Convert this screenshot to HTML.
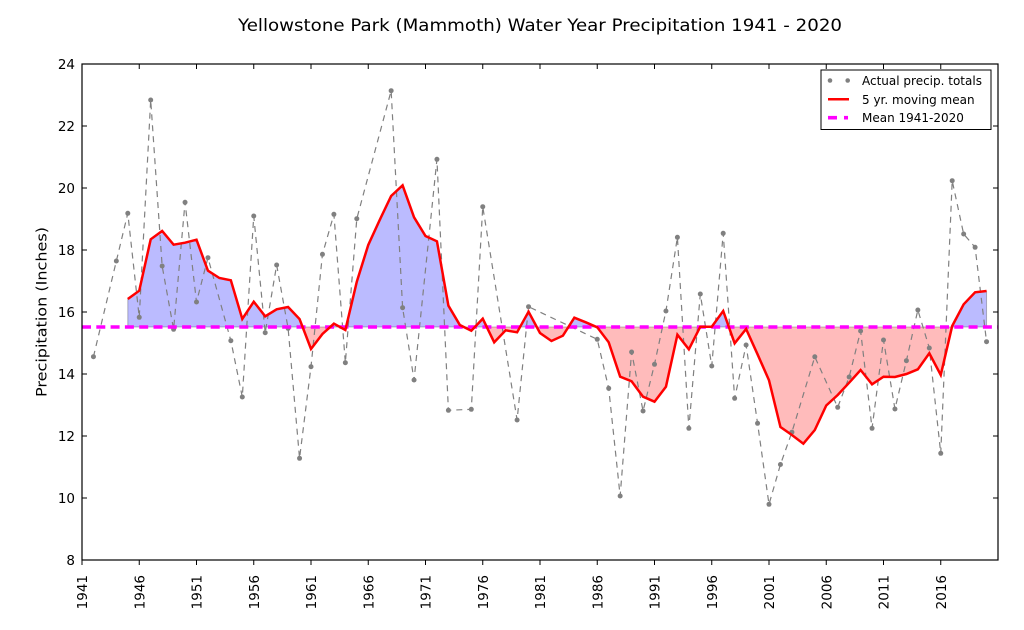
<!DOCTYPE html>
<html><head><meta charset="utf-8"><style>
html,body{margin:0;padding:0;background:#fff;}
svg{display:block;font-family:"DejaVu Sans","Liberation Sans",sans-serif;}
</style></head><body>
<svg width="1024" height="630" viewBox="0 0 1024 630" xmlns="http://www.w3.org/2000/svg">
<defs>
<clipPath id="above"><rect x="82" y="64" width="916" height="263"/></clipPath>
<clipPath id="below"><rect x="82" y="327" width="916" height="233"/></clipPath>
</defs>
<rect width="1024" height="630" fill="#fff"/>
<text x="540" y="31" font-size="17" text-anchor="middle" textLength="604" lengthAdjust="spacingAndGlyphs">Yellowstone Park (Mammoth) Water Year Precipitation 1941 - 2020</text>

<!-- fills -->
<g id="fillpoly">
<polygon clip-path="url(#above)" fill="#bbbbff" stroke="rgba(0,0,0,0.25)" stroke-width="1" points="127.8,299 139.25,290.7 150.7,239.3 162.15,231 173.6,244.7 185.05,242.7 196.5,239.7 207.95,270.7 219.4,278 230.85,280.3 242.3,319 253.75,301.7 265.2,316.3 276.65,309.3 288.1,307 299.55,319 311,349 322.45,334 333.9,323.7 345.35,330 356.8,281.7 368.25,245 379.7,220 391.15,196 402.6,185.3 414.05,217.3 425.5,236 436.95,241.3 448.4,305.7 459.85,325 471.3,330.7 482.75,318.7 494.2,342.3 505.65,330.3 517.1,332.3 528.55,311.7 540,333 551.45,341 562.9,335.7 574.35,317.7 585.8,322.3 597.25,327.3 608.7,342.3 620.15,376.7 631.6,381.3 643.05,396.7 654.5,401.7 665.95,386.7 677.4,334.7 688.85,349.3 700.3,326.7 711.75,326.7 723.2,311 734.65,343.3 746.1,329 757.55,354.3 769,380.3 780.45,427 791.9,435 803.35,443.7 814.8,430 826.25,405.5 837.7,395 849.15,382.7 860.6,370 872.05,384.3 883.5,376.7 894.95,377 906.4,374 917.85,369.3 929.3,353.3 940.75,375 952.2,326 963.65,304.3 975.1,292.3 986.55,291 986.55,327 127.8,327"/>
<polygon clip-path="url(#below)" fill="#ffbbbb" stroke="rgba(0,0,0,0.25)" stroke-width="1" points="127.8,299 139.25,290.7 150.7,239.3 162.15,231 173.6,244.7 185.05,242.7 196.5,239.7 207.95,270.7 219.4,278 230.85,280.3 242.3,319 253.75,301.7 265.2,316.3 276.65,309.3 288.1,307 299.55,319 311,349 322.45,334 333.9,323.7 345.35,330 356.8,281.7 368.25,245 379.7,220 391.15,196 402.6,185.3 414.05,217.3 425.5,236 436.95,241.3 448.4,305.7 459.85,325 471.3,330.7 482.75,318.7 494.2,342.3 505.65,330.3 517.1,332.3 528.55,311.7 540,333 551.45,341 562.9,335.7 574.35,317.7 585.8,322.3 597.25,327.3 608.7,342.3 620.15,376.7 631.6,381.3 643.05,396.7 654.5,401.7 665.95,386.7 677.4,334.7 688.85,349.3 700.3,326.7 711.75,326.7 723.2,311 734.65,343.3 746.1,329 757.55,354.3 769,380.3 780.45,427 791.9,435 803.35,443.7 814.8,430 826.25,405.5 837.7,395 849.15,382.7 860.6,370 872.05,384.3 883.5,376.7 894.95,377 906.4,374 917.85,369.3 929.3,353.3 940.75,375 952.2,326 963.65,304.3 975.1,292.3 986.55,291 986.55,327 127.8,327"/>
</g>

<!-- actual precip dashed -->
<polyline fill="none" stroke="#808080" stroke-width="1.2" stroke-dasharray="6,5" points="93.45,356.7 116.35,261 127.8,213.3 139.25,317.3 150.7,100 162.15,266 173.6,329.3 185.05,202.3 196.5,302 207.95,257.7 230.85,340.7 242.3,397 253.75,216 265.2,332.7 276.65,265 288.1,328.3 299.55,458.3 311,366.7 322.45,254.3 333.9,214.3 345.35,362.7 356.8,218.7 391.15,90.7 402.6,307.7 414.05,380 436.95,159.3 448.4,410.3 471.3,409.3 482.75,206.7 517.1,420 528.55,306.7 597.25,339.3 608.7,388.3 620.15,496 631.6,352 643.05,411 654.5,364.3 665.95,311 677.4,237.3 688.85,428.3 700.3,294 711.75,366 723.2,233.3 734.65,398.3 746.1,345 757.55,423.3 769,504.3 780.45,464.5 791.9,432.2 814.8,356.8 837.7,407.3 849.15,377 860.6,331 872.05,428.3 883.5,340 894.95,409 906.4,360.7 917.85,310 929.3,348 940.75,453.3 952.2,180.7 963.65,234 975.1,247.3 986.55,341.7"/>
<g fill="#808080">
<circle cx="93.45" cy="356.7" r="2.5"/><circle cx="116.35" cy="261" r="2.5"/><circle cx="127.8" cy="213.3" r="2.5"/><circle cx="139.25" cy="317.3" r="2.5"/><circle cx="150.7" cy="100" r="2.5"/><circle cx="162.15" cy="266" r="2.5"/><circle cx="173.6" cy="329.3" r="2.5"/><circle cx="185.05" cy="202.3" r="2.5"/><circle cx="196.5" cy="302" r="2.5"/><circle cx="207.95" cy="257.7" r="2.5"/><circle cx="230.85" cy="340.7" r="2.5"/><circle cx="242.3" cy="397" r="2.5"/><circle cx="253.75" cy="216" r="2.5"/><circle cx="265.2" cy="332.7" r="2.5"/><circle cx="276.65" cy="265" r="2.5"/><circle cx="288.1" cy="328.3" r="2.5"/><circle cx="299.55" cy="458.3" r="2.5"/><circle cx="311" cy="366.7" r="2.5"/><circle cx="322.45" cy="254.3" r="2.5"/><circle cx="333.9" cy="214.3" r="2.5"/><circle cx="345.35" cy="362.7" r="2.5"/><circle cx="356.8" cy="218.7" r="2.5"/><circle cx="391.15" cy="90.7" r="2.5"/><circle cx="402.6" cy="307.7" r="2.5"/><circle cx="414.05" cy="380" r="2.5"/><circle cx="436.95" cy="159.3" r="2.5"/><circle cx="448.4" cy="410.3" r="2.5"/><circle cx="471.3" cy="409.3" r="2.5"/><circle cx="482.75" cy="206.7" r="2.5"/><circle cx="517.1" cy="420" r="2.5"/><circle cx="528.55" cy="306.7" r="2.5"/><circle cx="597.25" cy="339.3" r="2.5"/><circle cx="608.7" cy="388.3" r="2.5"/><circle cx="620.15" cy="496" r="2.5"/><circle cx="631.6" cy="352" r="2.5"/><circle cx="643.05" cy="411" r="2.5"/><circle cx="654.5" cy="364.3" r="2.5"/><circle cx="665.95" cy="311" r="2.5"/><circle cx="677.4" cy="237.3" r="2.5"/><circle cx="688.85" cy="428.3" r="2.5"/><circle cx="700.3" cy="294" r="2.5"/><circle cx="711.75" cy="366" r="2.5"/><circle cx="723.2" cy="233.3" r="2.5"/><circle cx="734.65" cy="398.3" r="2.5"/><circle cx="746.1" cy="345" r="2.5"/><circle cx="757.55" cy="423.3" r="2.5"/><circle cx="769" cy="504.3" r="2.5"/><circle cx="780.45" cy="464.5" r="2.5"/><circle cx="791.9" cy="432.2" r="2.5"/><circle cx="814.8" cy="356.8" r="2.5"/><circle cx="837.7" cy="407.3" r="2.5"/><circle cx="849.15" cy="377" r="2.5"/><circle cx="860.6" cy="331" r="2.5"/><circle cx="872.05" cy="428.3" r="2.5"/><circle cx="883.5" cy="340" r="2.5"/><circle cx="894.95" cy="409" r="2.5"/><circle cx="906.4" cy="360.7" r="2.5"/><circle cx="917.85" cy="310" r="2.5"/><circle cx="929.3" cy="348" r="2.5"/><circle cx="940.75" cy="453.3" r="2.5"/><circle cx="952.2" cy="180.7" r="2.5"/><circle cx="963.65" cy="234" r="2.5"/><circle cx="975.1" cy="247.3" r="2.5"/><circle cx="986.55" cy="341.7" r="2.5"/>
</g>

<!-- mean line -->
<line x1="82" y1="327" x2="998" y2="327" stroke="#ff00ff" stroke-width="3.6" stroke-dasharray="9,5.3"/>

<!-- moving mean -->
<polyline fill="none" stroke="#ff0000" stroke-width="2.5" stroke-linejoin="miter" points="127.8,299 139.25,290.7 150.7,239.3 162.15,231 173.6,244.7 185.05,242.7 196.5,239.7 207.95,270.7 219.4,278 230.85,280.3 242.3,319 253.75,301.7 265.2,316.3 276.65,309.3 288.1,307 299.55,319 311,349 322.45,334 333.9,323.7 345.35,330 356.8,281.7 368.25,245 379.7,220 391.15,196 402.6,185.3 414.05,217.3 425.5,236 436.95,241.3 448.4,305.7 459.85,325 471.3,330.7 482.75,318.7 494.2,342.3 505.65,330.3 517.1,332.3 528.55,311.7 540,333 551.45,341 562.9,335.7 574.35,317.7 585.8,322.3 597.25,327.3 608.7,342.3 620.15,376.7 631.6,381.3 643.05,396.7 654.5,401.7 665.95,386.7 677.4,334.7 688.85,349.3 700.3,326.7 711.75,326.7 723.2,311 734.65,343.3 746.1,329 757.55,354.3 769,380.3 780.45,427 791.9,435 803.35,443.7 814.8,430 826.25,405.5 837.7,395 849.15,382.7 860.6,370 872.05,384.3 883.5,376.7 894.95,377 906.4,374 917.85,369.3 929.3,353.3 940.75,375 952.2,326 963.65,304.3 975.1,292.3 986.55,291"/>

<!-- axes frame -->
<rect x="82" y="64" width="916" height="496" fill="none" stroke="#000" stroke-width="1.2"/>

<!-- y ticks -->
<g stroke="#000" stroke-width="1">
<path d="M82 64h5M82 126h5M82 188h5M82 250h5M82 312h5M82 374h5M82 436h5M82 498h5M82 560h5"/>
<path d="M998 64h-5M998 126h-5M998 188h-5M998 250h-5M998 312h-5M998 374h-5M998 436h-5M998 498h-5M998 560h-5"/>
<path d="M82 560v5M139.25 560v5M196.5 560v5M253.75 560v5M311 560v5M368.25 560v5M425.5 560v5M482.75 560v5M540 560v5M597.25 560v5M654.5 560v5M711.75 560v5M769 560v5M826.25 560v5M883.5 560v5M940.75 560v5"/>
<path d="M82 64v5M139.25 64v5M196.5 64v5M253.75 64v5M311 64v5M368.25 64v5M425.5 64v5M482.75 64v5M540 64v5M597.25 64v5M654.5 64v5M711.75 64v5M769 64v5M826.25 64v5M883.5 64v5M940.75 64v5"/>
</g>
<g font-size="13.5" text-anchor="end" fill="#000">
<text x="75" y="69">24</text><text x="75" y="131">22</text><text x="75" y="193">20</text><text x="75" y="255">18</text><text x="75" y="317">16</text><text x="75" y="379">14</text><text x="75" y="441">12</text><text x="75" y="503">10</text><text x="75" y="565">8</text>
</g>
<g font-size="13.5" text-anchor="end" fill="#000">
<text transform="translate(87,575) rotate(-90)">1941</text>
<text transform="translate(144.25,575) rotate(-90)">1946</text>
<text transform="translate(201.5,575) rotate(-90)">1951</text>
<text transform="translate(258.75,575) rotate(-90)">1956</text>
<text transform="translate(316,575) rotate(-90)">1961</text>
<text transform="translate(373.25,575) rotate(-90)">1966</text>
<text transform="translate(430.5,575) rotate(-90)">1971</text>
<text transform="translate(487.75,575) rotate(-90)">1976</text>
<text transform="translate(545,575) rotate(-90)">1981</text>
<text transform="translate(602.25,575) rotate(-90)">1986</text>
<text transform="translate(659.5,575) rotate(-90)">1991</text>
<text transform="translate(716.75,575) rotate(-90)">1996</text>
<text transform="translate(774,575) rotate(-90)">2001</text>
<text transform="translate(831.25,575) rotate(-90)">2006</text>
<text transform="translate(888.5,575) rotate(-90)">2011</text>
<text transform="translate(945.75,575) rotate(-90)">2016</text>
</g>
<text transform="translate(46.5,312) rotate(-90)" font-size="14" text-anchor="middle" textLength="170" lengthAdjust="spacingAndGlyphs">Precipitation (Inches)</text>

<!-- legend -->
<rect x="821" y="70" width="170" height="59.5" fill="#fff" stroke="#000" stroke-width="1"/>
<circle cx="830" cy="80.5" r="2.3" fill="#808080"/>
<circle cx="847.7" cy="80.5" r="2.3" fill="#808080"/>
<line x1="828" y1="99.3" x2="849" y2="99.3" stroke="#ff0000" stroke-width="2.5"/>
<line x1="828" y1="117.7" x2="837" y2="117.7" stroke="#ff00ff" stroke-width="3.6"/>
<line x1="844" y1="117.7" x2="848" y2="117.7" stroke="#ff00ff" stroke-width="3.6"/>
<g font-size="12" fill="#000">
<text x="862" y="84.8">Actual precip. totals</text>
<text x="862" y="103.8">5 yr. moving mean</text>
<text x="862" y="122.2">Mean 1941-2020</text>
</g>
</svg>
</body></html>
